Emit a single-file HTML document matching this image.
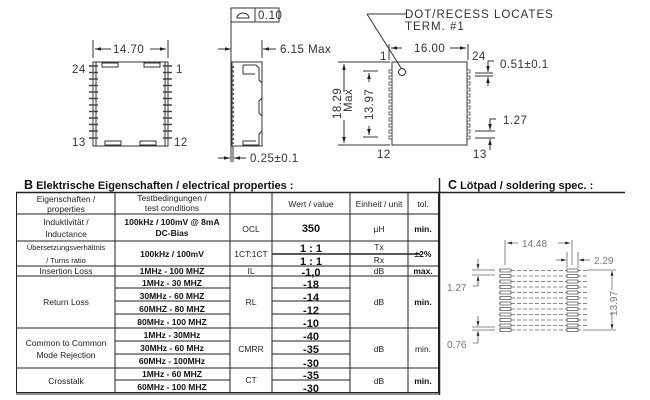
<!DOCTYPE html>
<html><head><meta charset="utf-8"><style>
html,body{margin:0;padding:0;background:#fff;}
svg{display:block}
text{font-family:"Liberation Sans",sans-serif;}
</style></head><body>
<svg width="650" height="400" viewBox="0 0 650 400" xmlns="http://www.w3.org/2000/svg">
<defs>
<marker id="a" viewBox="0 0 10 10" refX="10" refY="5" markerWidth="6" markerHeight="6" orient="auto-start-reverse"><path d="M0,2 L10,5 L0,8z" fill="#222"/></marker>
</defs>
<g stroke="#333" stroke-width="1" fill="none">
<rect x="93" y="62" width="75" height="84"/>
<line x1="93" y1="40" x2="93" y2="58"/><line x1="168" y1="40" x2="168" y2="58"/>
<line x1="95" y1="49" x2="111" y2="49" marker-start="url(#a)"/><line x1="150" y1="49" x2="166" y2="49" marker-end="url(#a)"/>
<rect x="102" y="63" width="16" height="4"/><rect x="144" y="63" width="16" height="4"/>
<rect x="105" y="141" width="16" height="4"/><rect x="140" y="141" width="16" height="4"/>
<line x1="96" y1="62" x2="96" y2="146"/><line x1="165" y1="62" x2="165" y2="146"/>
</g>
<g stroke="#444" stroke-width="1.4">
<path d="M89,66h9M89,72.5h9M89,79h9M89,85.5h9M89,92h9M89,98.5h9M89,105h9M89,111.5h9M89,118h9M89,124.5h9M89,131h9M89,138h9"/>
<path d="M163,66h9M163,72.5h9M163,79h9M163,85.5h9M163,92h9M163,98.5h9M163,105h9M163,111.5h9M163,118h9M163,124.5h9M163,131h9M163,138h9"/>
</g>
<g font-size="11.5" fill="#333" letter-spacing="0.5">
<text x="113" y="53">14.70</text>
<text x="72" y="73">24</text><text x="176" y="73">1</text>
<text x="72" y="146">13</text><text x="174" y="146">12</text>
</g>
<g stroke="#333" stroke-width="1" fill="none">
<rect x="231" y="8" width="48" height="14"/><line x1="255" y1="8" x2="255" y2="22"/>
<path d="M237,18 a6,5 0 0 1 12,0z"/>
<line x1="231" y1="22" x2="231" y2="162"/>
<rect x="232" y="62" width="30" height="84"/>
<path d="M243,65h13l3,3v12l3,3v15l-3,3v12l3,3v15l-3,3v11h-16v-4h13"/>
<path d="M243,65v9h12"/>
<line x1="262" y1="40" x2="262" y2="58"/>
<line x1="218" y1="49" x2="231" y2="49" marker-end="url(#a)"/>
<line x1="276" y1="49" x2="263" y2="49" marker-end="url(#a)"/>
<line x1="218" y1="158" x2="230" y2="158" marker-end="url(#a)"/>
<line x1="246" y1="158" x2="234" y2="158" marker-end="url(#a)"/>
<line x1="233" y1="146" x2="233" y2="162"/>
</g>
<path d="M233,66v78" stroke="#555" stroke-dasharray="2,2.5" stroke-width="2"/>
<g font-size="11.5" fill="#333" letter-spacing="0.5">
<text x="258" y="19">0.10</text>
<text x="280" y="53">6.15  Max</text>
<text x="250" y="162">0.25±0.1</text>
</g>
<g stroke="#333" stroke-width="1" fill="none">
<rect x="392" y="62" width="75" height="83"/>
<circle cx="402" cy="72" r="3.5"/>
<path d="M367,14h40M367,14l34,54"/>
<line x1="389" y1="44" x2="389" y2="60"/><line x1="468" y1="44" x2="468" y2="60"/>
<line x1="391" y1="48" x2="402" y2="48" marker-start="url(#a)"/><line x1="450" y1="48" x2="466" y2="48" marker-end="url(#a)"/>
<line x1="338" y1="62" x2="390" y2="62"/><line x1="338" y1="145" x2="390" y2="145"/>
<line x1="344" y1="64" x2="344" y2="92" marker-start="url(#a)"/><line x1="344" y1="120" x2="344" y2="143" marker-end="url(#a)"/>
<line x1="363" y1="71" x2="378" y2="71"/><line x1="363" y1="137" x2="378" y2="137"/>
<line x1="369" y1="73" x2="369" y2="82" marker-start="url(#a)"/><line x1="369" y1="126" x2="369" y2="135" marker-end="url(#a)"/>
<line x1="475" y1="73" x2="493" y2="73"/><line x1="475" y1="76" x2="493" y2="76"/>
<line x1="488" y1="62" x2="488" y2="72" marker-end="url(#a)"/><line x1="488" y1="86" x2="488" y2="77" marker-end="url(#a)"/>
<path d="M488,66v-5h6"/>
<line x1="475" y1="131" x2="495" y2="131"/><line x1="475" y1="138" x2="495" y2="138"/>
<line x1="490" y1="121" x2="490" y2="130" marker-end="url(#a)"/><line x1="490" y1="150" x2="490" y2="139" marker-end="url(#a)"/>
<path d="M490,124v-5h6"/>
</g>
<g fill="#fff" stroke="#444" stroke-width="0.8">
<path d="M389,70h3v3h-3zM389,76h3v3h-3zM389,82h3v3h-3zM389,88h3v3h-3zM389,94h3v3h-3zM389,100h3v3h-3zM389,106h3v3h-3zM389,112h3v3h-3zM389,118h3v3h-3zM389,124h3v3h-3zM389,130h3v3h-3zM389,136h3v3h-3z"/>
<path d="M467,70h3v3h-3zM467,76h3v3h-3zM467,82h3v3h-3zM467,88h3v3h-3zM467,94h3v3h-3zM467,100h3v3h-3zM467,106h3v3h-3zM467,112h3v3h-3zM467,118h3v3h-3zM467,124h3v3h-3zM467,130h3v3h-3zM467,136h3v3h-3z"/>
</g>
<g font-size="11.5" fill="#333" letter-spacing="0.5">
<text x="405" y="18" letter-spacing="1">DOT/RECESS LOCATES</text>
<text x="405" y="30" letter-spacing="1">TERM. #1</text>
<text x="414" y="52">16.00</text>
<text x="380" y="60">1</text><text x="472" y="60">24</text>
<text x="377" y="158">12</text><text x="473" y="158">13</text>
<text x="500" y="68">0.51±0.1</text>
<text x="503" y="124">1.27</text>
<text transform="translate(341,119) rotate(-90)">18.29</text>
<text transform="translate(352,112) rotate(-90)">Max</text>
<text transform="translate(373,120) rotate(-90)">13.97</text>
</g>
<g font-size="11" font-weight="bold" fill="#111">
<text x="24" y="189"><tspan font-size="12.5">B</tspan>  Elektrische Eigenschaften  /  electrical properties :</text>
<text x="448" y="189"><tspan font-size="12.5">C</tspan>  Lötpad  /  soldering spec. :</text>
</g>
<line x1="16" y1="192.5" x2="625" y2="192.5" stroke="#222" stroke-width="1.5"/>
<line x1="439.5" y1="178" x2="439.5" y2="395" stroke="#222" stroke-width="1.5"/>
<g stroke="#222" stroke-width="1" fill="none">
<rect x="16.5" y="192.5" width="422" height="200"/>
<line x1="16" y1="394" x2="439" y2="394"/>
<path d="M115,193V392M230,193V392M272,193V392M350,193V392M408,193V392"/>
<path d="M16,214H438M16,241H438M16,266H438M16,276H438M16,328H438M16,368H438"/>
<path d="M115,288H230M115,301H230M115,314H230M115,341H230M115,354H230M115,380H230"/>
<path d="M272,288H350M272,301H350M272,314H350M272,341H350M272,354H350M272,380H350"/>
</g>
<path d="M272,254H420" stroke="#222" stroke-width="1.6"/>
<g font-size="8.5" fill="#222" text-anchor="middle">
<text x="66" y="202">Eigenschaften /</text><text x="66" y="212">properties</text>
<text x="172" y="201">Testbedingungen /</text><text x="172" y="211">test conditions</text>
<text x="311" y="207">Wert / value</text><text x="379" y="207">Einheit / unit</text><text x="423" y="207">tol.</text>
<text x="66" y="225">Induktivität /</text><text x="66" y="237">Inductance</text>
<text x="251" y="232">OCL</text><text x="379" y="232">µH</text>
<text x="66" y="250" font-size="7.5">Übersetzungsverhältnis</text><text x="66" y="263" font-size="7.5">/ Turns ratio</text>
<text x="251" y="257">1CT:1CT</text><text x="379" y="250">Tx</text><text x="379" y="263">Rx</text>
<text x="66" y="274">Insertion Loss</text><text x="251" y="274">IL</text><text x="379" y="274">dB</text>
<text x="66" y="305">Return Loss</text><text x="251" y="305">RL</text><text x="379" y="305">dB</text>
<text x="66" y="346">Common to Common</text><text x="66" y="358">Mode Rejection</text>
<text x="251" y="352">CMRR</text><text x="379" y="352">dB</text><text x="423" y="352">min.</text>
<text x="66" y="384">Crosstalk</text><text x="251" y="383">CT</text><text x="379" y="384">dB</text>
</g>
<g font-size="8.5" fill="#111" text-anchor="middle" font-weight="bold">
<text x="172" y="225">100kHz / 100mV @ 8mA</text><text x="172" y="236">DC-Bias</text>
<text x="172" y="257">100kHz / 100mV</text>
<text x="172" y="274">1MHz - 100 MHZ</text>
<text x="172" y="286">1MHz - 30 MHZ</text>
<text x="172" y="299">30MHz - 60 MHZ</text>
<text x="172" y="312">60MHZ - 80 MHZ</text>
<text x="172" y="325">80MHz - 100 MHZ</text>
<text x="172" y="338">1MHz - 30MHz</text>
<text x="172" y="351">30MHz - 60 MHz</text>
<text x="172" y="364">60MHz - 100MHz</text>
<text x="172" y="377">1MHz - 60 MHZ</text>
<text x="172" y="390">60MHz - 100 MHZ</text>
<text x="423" y="232">min.</text><text x="423" y="257">±2%</text><text x="423" y="274">max.</text>
<text x="423" y="305">min.</text><text x="423" y="384">min.</text>
</g>
<g font-size="11" fill="#111" text-anchor="middle" font-weight="bold">
<text x="311" y="232">350</text>
<text x="311" y="252">1 : 1</text><text x="311" y="265">1 : 1</text>
<text x="311" y="276">-1,0</text>
<text x="311" y="288">-18</text><text x="311" y="301">-14</text><text x="311" y="314">-12</text><text x="311" y="327">-10</text>
<text x="311" y="340">-40</text><text x="311" y="353">-35</text><text x="311" y="367">-30</text>
<text x="311" y="379">-35</text><text x="311" y="392">-30</text>
</g>
<g stroke="#666" stroke-width="0.8" fill="none">
<line x1="505" y1="240" x2="505" y2="265"/><line x1="572" y1="240" x2="572" y2="265"/>
<line x1="507" y1="243" x2="518" y2="243" marker-start="url(#a)"/><line x1="558" y1="243" x2="570" y2="243" marker-end="url(#a)"/>
<line x1="567" y1="252" x2="567" y2="268"/><line x1="578" y1="252" x2="578" y2="268"/>
<line x1="556" y1="260" x2="566" y2="260" marker-end="url(#a)"/><line x1="590" y1="260" x2="579" y2="260" marker-end="url(#a)"/>
<line x1="472" y1="270" x2="495" y2="270"/><line x1="472" y1="275" x2="495" y2="275"/>
<line x1="478" y1="259" x2="478" y2="269" marker-end="url(#a)"/><line x1="478" y1="286" x2="478" y2="276" marker-end="url(#a)"/>
<path d="M478,282v4h-5"/>
<line x1="472" y1="327" x2="495" y2="327"/><line x1="472" y1="330" x2="495" y2="330"/>
<line x1="478" y1="316" x2="478" y2="326" marker-end="url(#a)"/><line x1="478" y1="343" x2="478" y2="331" marker-end="url(#a)"/>
<path d="M478,339v4h-5"/>
<line x1="587" y1="270" x2="616" y2="270"/><line x1="587" y1="330" x2="616" y2="330"/>
<line x1="612" y1="290" x2="612" y2="271" marker-end="url(#a)"/><line x1="612" y1="312" x2="612" y2="329" marker-end="url(#a)"/>
</g>
<g stroke="#666" stroke-width="0.7" stroke-dasharray="4,2">
<path d="M499,270.5H588M499,276H588M499,281.5H588M499,287H588M499,292.5H588M499,298H588M499,303.5H588M499,309H588M499,314.5H588M499,320H588M499,325.5H588M499,330H588"/>
</g>
<g fill="#fff" stroke="#555" stroke-width="0.8">
<path d="M500,269h11v3h-11zM500,274.5h11v3h-11zM500,280h11v3h-11zM500,285.5h11v3h-11zM500,291h11v3h-11zM500,296.5h11v3h-11zM500,302h11v3h-11zM500,307.5h11v3h-11zM500,313h11v3h-11zM500,318.5h11v3h-11zM500,324h11v3h-11zM500,328.5h11v3h-11z"/>
<path d="M567,269h11v3h-11zM567,274.5h11v3h-11zM567,280h11v3h-11zM567,285.5h11v3h-11zM567,291h11v3h-11zM567,296.5h11v3h-11zM567,302h11v3h-11zM567,307.5h11v3h-11zM567,313h11v3h-11zM567,318.5h11v3h-11zM567,324h11v3h-11zM567,328.5h11v3h-11z"/>
</g>
<g font-size="10" fill="#777">
<text x="522" y="247">14.48</text>
<text x="594" y="264">2.29</text>
<text x="447" y="291">1.27</text>
<text x="447" y="348">0.76</text>
<text transform="translate(617,316) rotate(-90)">13.97</text>
</g>
</svg>
</body></html>
